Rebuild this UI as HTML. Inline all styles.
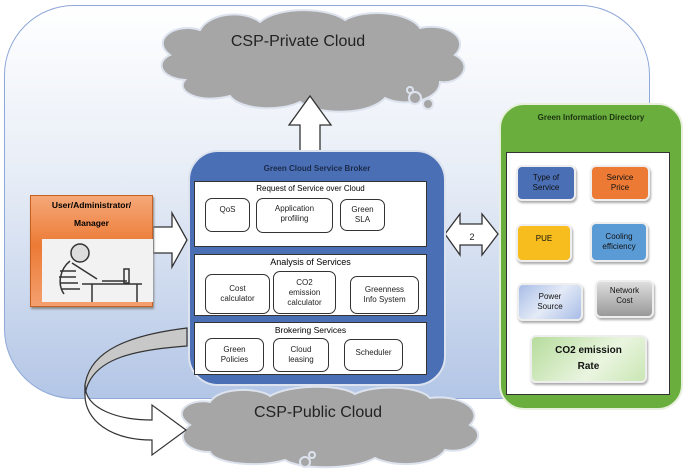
<!DOCTYPE html>
<html><head><meta charset="utf-8"><style>
body{margin:0;width:685px;height:471px;position:relative;overflow:hidden;background:#fff;font-family:"Liberation Sans",sans-serif}
.a{position:absolute;box-sizing:border-box}
.t{display:flex;align-items:center;justify-content:center;text-align:center;font-weight:bold;font-size:8px;line-height:10px}
.sb{background:#fff;border:1.5px solid #333;border-radius:7px;color:#222;font-weight:normal;font-size:8px}
.gb{border-radius:6px;box-shadow:1px 2px 2px #aaa;border:2px solid #eee}
</style></head><body>
<div class="a" style="left:4px;top:5px;width:646px;height:394px;border-radius:70px;border:1px solid #8fa8d8;background:linear-gradient(#fff 0%,#e6ecf6 45%,#b3c6e6 100%)"></div>
<svg class="a" style="left:0;top:0" width="685" height="471">
<g fill="#a6a6a6" stroke="#dde3ee" stroke-width="2">
<path d="M170,55 C150,40 175,22 200,30 C210,12 245,10 260,22 C280,5 330,8 345,20 C365,8 410,12 420,28 C450,22 470,40 455,55 C475,65 460,85 440,82 C440,100 405,108 385,98 C370,115 320,116 300,102 C280,112 240,110 230,96 C200,104 175,92 185,80 C160,78 155,62 170,55Z"/>
<circle cx="415" cy="98" r="6"/><circle cx="428" cy="104" r="5"/><circle cx="410" cy="90" r="3"/>
<path d="M190,425 C170,412 190,398 210,402 C220,386 260,388 270,396 C290,384 340,384 355,394 C375,384 420,386 430,398 C460,394 485,410 470,425 C490,435 470,455 445,450 C435,466 395,468 375,458 C355,470 300,470 285,460 C260,468 215,464 210,452 C185,452 175,436 190,425Z"/>
<circle cx="305" cy="462" r="5"/><circle cx="312" cy="455" r="3"/>
</g>
<path d="M300,150 V125 H289 L310,96 L331,125 H320 V150" fill="#fff" stroke="#333" stroke-width="1.3"/>
<path d="M153,227 H172 V213 L187,240 L172,267 V253 H153Z" fill="#fff" stroke="#333" stroke-width="1.3"/>
<path d="M445,234 L460,214 V224 H482 V214 L498,234 L482,255 V245 H460 V255Z" fill="#fff" stroke="#333" stroke-width="1.3"/>
<path d="M187,328 C130,335 90,350 85,385 L85,395 C90,360 130,350 187,346Z" fill="#c8c8c8" stroke="#333" stroke-width="1.2"/>
<path d="M85,385 C85,410 120,420 152,420 L152,405 L186,430 L152,455 L152,440 C110,440 85,420 85,395Z" fill="#fff" stroke="#333" stroke-width="1.2"/>
<text x="298" y="46" font-family="Liberation Sans" font-size="16" text-anchor="middle" fill="#222">CSP-Private Cloud</text>
<text x="318" y="417" font-family="Liberation Sans" font-size="16" text-anchor="middle" fill="#222">CSP-Public Cloud</text>
<text x="472" y="240" font-family="Liberation Sans" font-size="9" text-anchor="middle" fill="#222">2</text>
</svg>
<div class="a" style="left:30px;top:195px;width:123px;height:112px;background:linear-gradient(#f5a878,#ec7a35 45%,#f4a070);border:1px solid #c86020;box-shadow:1px 2px 2px #888"></div>
<div class="a t" style="left:30px;top:198px;width:123px;height:14px;font-size:8.5px">User/Administrator/</div>
<div class="a t" style="left:30px;top:216px;width:123px;height:14px;font-size:8.5px">Manager</div>
<div class="a" style="left:42px;top:239px;width:111px;height:63px;background:#f2f2f2"></div>
<svg class="a" style="left:42px;top:239px" width="111" height="63"><g stroke="#333" fill="none" stroke-width="1.5"><circle cx="38" cy="14" r="9" fill="#ddd"/><path d="M28,22 C18,30 15,45 22,55 M30,24 L55,40 M18,32 H34 M17,38 H34 M18,44 H36 M20,50 H38"/><path d="M40,45 H100 M50,45 V63 M95,45 V63 M60,42 H85"/><rect x="82" y="30" width="5" height="14"/></g></svg>
<div class="a" style="left:188px;top:150px;width:258px;height:236px;background:#4a6fb5;border-radius:30px;border:2px solid #dde3ee"></div>
<div class="a t" style="left:188px;top:163px;width:258px;height:12px;color:#1c2a4a">Green Cloud Service Broker</div>
<div class="a" style="left:194px;top:181px;width:233px;height:66px;background:#fff;border:1px solid #333"></div>
<div class="a t" style="left:194px;top:183px;width:233px;height:12px;font-weight:normal">Request of Service over Cloud</div>
<div class="a" style="left:194px;top:254px;width:233px;height:62px;background:#fff;border:1px solid #333"></div>
<div class="a t" style="left:194px;top:256px;width:233px;height:12px;font-weight:normal;font-size:9px">Analysis of Services</div>
<div class="a" style="left:194px;top:322px;width:233px;height:53px;background:#fff;border:1px solid #333"></div>
<div class="a t" style="left:194px;top:324px;width:233px;height:12px;font-size:8.5px;font-weight:normal">Brokering Services</div>
<div class="a t sb" style="left:205px;top:198px;width:45px;height:34px;align-items:flex-start;padding-top:6px">QoS</div>
<div class="a t sb" style="left:256px;top:198px;width:77px;height:35px;align-items:flex-start;padding-top:5px">Application<br>profiling</div>
<div class="a t sb" style="left:340px;top:199px;width:45px;height:32px;align-items:flex-start;padding-top:5px">Green<br>SLA</div>
<div class="a t sb" style="left:205px;top:274px;width:65px;height:40px">Cost<br>calculator</div>
<div class="a t sb" style="left:273px;top:271px;width:63px;height:43px">CO2<br>emission<br>calculator</div>
<div class="a t sb" style="left:350px;top:276px;width:69px;height:38px">Greenness<br>Info System</div>
<div class="a t sb" style="left:205px;top:338px;width:59px;height:34px">Green<br>Policies</div>
<div class="a t sb" style="left:273px;top:338px;width:56px;height:34px">Cloud<br>leasing</div>
<div class="a t sb" style="left:344px;top:339px;width:59px;height:32px;align-items:flex-start;padding-top:8px">Scheduler</div>
<div class="a" style="left:499px;top:103px;width:184px;height:307px;background:#6aae3e;border-radius:25px;border:2px solid #e6f0dc"></div>
<div class="a t" style="left:499px;top:112px;width:184px;height:12px;color:#1d3310">Green Information Directory</div>
<div class="a" style="left:506px;top:152px;width:164px;height:243px;background:#fff;border:1px solid #333"></div>
<div class="a t gb" style="left:516px;top:165px;width:60px;height:36px;background:#4a6fb5;color:#111;font-weight:normal">Type of<br>Service</div>
<div class="a t gb" style="left:590px;top:165px;width:60px;height:36px;background:#ec7a35;color:#111;font-weight:normal">Service<br>Price</div>
<div class="a t gb" style="left:516px;top:224px;width:56px;height:38px;background:#f7bd1e;color:#111;align-items:flex-start;padding-top:8px;font-weight:normal">PUE</div>
<div class="a t gb" style="left:590px;top:222px;width:58px;height:40px;background:#5b9bd5;color:#111;font-weight:normal">Cooling<br>efficiency</div>
<div class="a t gb" style="left:517px;top:283px;width:66px;height:38px;background:linear-gradient(135deg,#a8bce6,#e4ebf7 50%,#a8bce6);color:#111;font-weight:normal">Power<br>Source</div>
<div class="a t gb" style="left:595px;top:280px;width:59px;height:38px;background:linear-gradient(#ddd,#999);color:#111;align-items:flex-start;padding-top:4px;font-weight:normal">Network<br>Cost</div>
<div class="a t gb" style="left:530px;top:335px;width:117px;height:48px;background:linear-gradient(135deg,#b6dc9c,#eaf5e0 60%,#c9e6b3);color:#111;font-size:10px;line-height:16px">CO2 emission<br>Rate</div>
</body></html>
